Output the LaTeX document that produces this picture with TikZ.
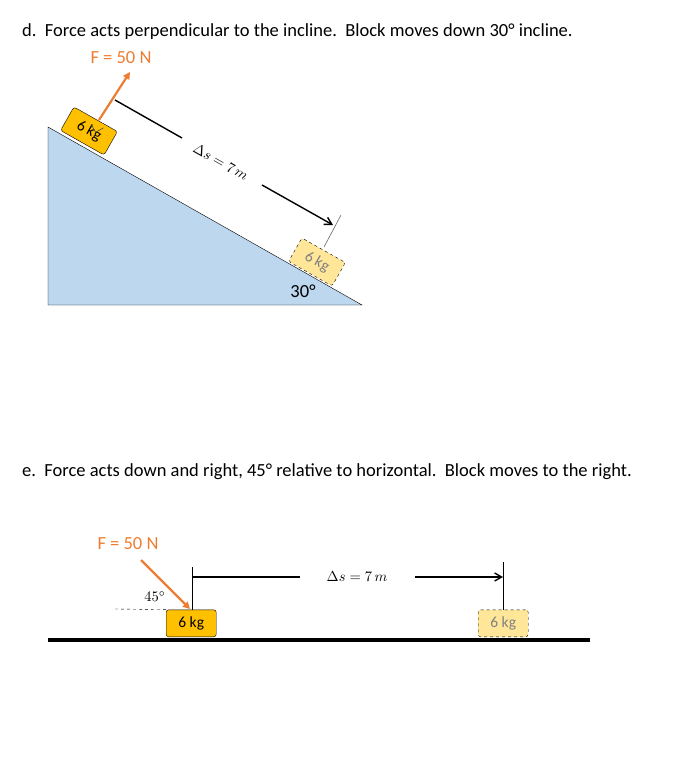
\documentclass[tikz,border=0pt]{standalone}
\usepackage{fontspec}
\setmainfont{Carlito}
\usetikzlibrary{arrows.meta}
\definecolor{gold}{HTML}{FFC000}
\definecolor{ghost}{HTML}{FFE699}
\definecolor{forange}{HTML}{ED7D31}
\definecolor{slope}{HTML}{BDD7EE}
\tikzset{
 txt/.style={font=\fontsize{18.5}{22}\selectfont,inner sep=0pt},
 blk/.style={draw,fill=gold,rounded corners=2.5pt,minimum width=50pt,minimum height=27pt,inner sep=0pt,font=\fontsize{15.5}{18}\selectfont},
 gblk/.style={blk,fill=ghost,dashed,text=gray},
 farrow/.style={forange,line width=2.2pt,-{Triangle[length=7pt,width=7pt]}},
 darrow/.style={line width=1.4pt,-{Straight Barb[length=7pt,width=8pt]}},
 mth/.style={inner sep=0pt,scale=1.45},
}
\begin{document}
\begin{tikzpicture}[x=1pt,y=-1pt]
\useasboundingbox (0,0) rectangle (690,762);
% headings
\node[txt,anchor=west] (hd) at (22,32) {d.\ \ Force acts perpendicular to the incline.\ \ Block moves down 30° incline.};
\node[txt,anchor=west] (he) at (22,472) {e.\ \ Force acts down and right, 45° relative to horizontal.\ \ Block moves to the right.};
% incline
\draw[fill=slope] (48,127) -- (48,305) -- (362,305) -- cycle;
\node[txt] (ang) at (303,291) {30°};
\node[blk,rotate=-29.5] (b1) at (89,131) {6 kg};
\node[gblk,rotate=-29.5] (b2) at (317,262) {6 kg};
\coordinate (fs) at (99,120);
\coordinate (fe) at (130,72);
\draw[black!70,line width=0.6pt] (fs) ++(-29.5:-9) -- ++(60.5:9) -- ++(-29.5:9);
\draw[farrow] (fs) -- (fe);
\node[txt,text=forange] (fl) at (121,58) {F = 50 N};
\coordinate (s1) at (115,100);
\coordinate (s2) at (182,138);
\coordinate (s3) at (262,185);
\coordinate (s4) at (333,225);
\draw[line width=1.4pt] (s1) -- (s2);
\draw[darrow] (s3) -- (s4);
\node[mth,rotate=-29.5] (dl) at (221,162) {$\Delta s = 7\,m$};
\coordinate (t1) at (341,215);
\coordinate (t2) at (324,247);
\draw[gray!80!black,line width=0.6pt] (t1) -- (t2);
% ground
\draw[line width=4pt] (48,640) -- (590,640);
\node[blk,anchor=south west] (c1) at (166,637) {6 kg};
\node[gblk,anchor=south west] (c2) at (478,637) {6 kg};
\coordinate (v1) at (192,567);
\coordinate (v2) at (503,562);
\draw (v1) -- (c1.north -| v1);
\draw (v2) -- (c2.north -| v2);
\coordinate (h1) at (192,577);
\coordinate (h2) at (300,577);
\coordinate (h3) at (415,577);
\coordinate (h4) at (503,577);
\draw[line width=1.4pt] (h1) -- (h2);
\draw[darrow] (h3) -- (h4);
\node[mth] (dl2) at (357,577) {$\Delta s = 7\,m$};
\coordinate (g1) at (141,560);
\coordinate (g2) at (190,609);
\draw[farrow] (g1) -- (g2);
\node[txt,text=forange] (gl) at (128,544) {F = 50 N};
\node[mth] (a45) at (155,597) {$45^\circ$};
\coordinate (dd) at (115,609);
\draw[dashed] (dd) -- (c1.north west);
\end{tikzpicture}
\end{document}
